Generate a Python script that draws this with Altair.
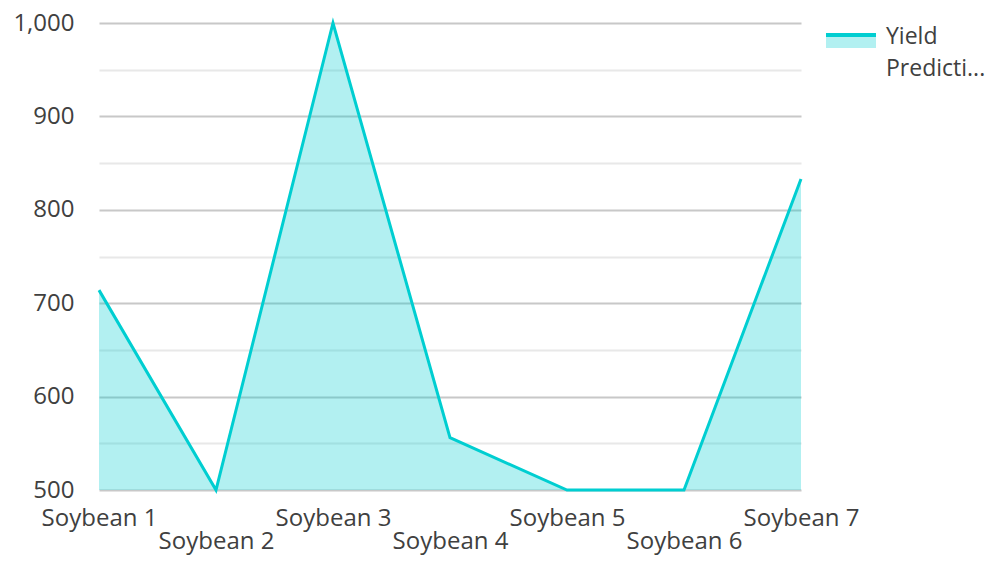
import altair as alt
import pandas as pd

categories = ["Soybean 1", "Soybean 2", "Soybean 3", "Soybean 4", "Soybean 5", "Soybean 6", "Soybean 7"]
values = [714, 500, 1000, 556, 500, 500, 833]
series_name = "Yield Prediction"
y_ticks = [500, 550, 600, 650, 700, 750, 800, 850, 900, 950, 1000]
y_base = 500

LINE = "#00CED1"
FONT = "Open Sans"
TXT = "#404040"

df = pd.DataFrame({"cat": categories, "val": values, "series": series_name})

x = alt.X(
    "cat:N",
    sort=categories,
    scale=alt.Scale(type="point", padding=0),
    axis=alt.Axis(
        title=None,
        domain=False,
        ticks=False,
        grid=False,
        labelAngle=0,
        labelFont=FONT,
        labelFontSize=24,
        labelColor=TXT,
        labelOverlap=False,
        labelBaseline="top",
        labelLineHeight=23,
        labelPadding=16,
        labelExpr="parseInt(slice(datum.label, -1)) % 2 == 0 ? ['', datum.label] : datum.label",
    ),
)
y = alt.Y(
    "val:Q",
    scale=alt.Scale(domain=[500, 1000], zero=False),
    axis=alt.Axis(
        title=None,
        domain=False,
        ticks=False,
        values=y_ticks,
        format=",.0f",
        labelExpr="datum.value % 100 == 0 ? datum.label : ''",
        labelFont=FONT,
        labelFontSize=24,
        labelColor=TXT,
        labelPadding=25,
        gridColor={"condition": {"test": "datum.value % 100 != 0", "value": "#e8e8e8"}, "value": "#c8c8c8"},
        gridWidth=2,
    ),
)

area = alt.Chart(df).mark_area(color=LINE, opacity=0.3).encode(x=x, y=y, y2=alt.Y2(datum=y_base))
line = alt.Chart(df).mark_line(color=LINE, strokeWidth=3).encode(x=x, y=y)

leg_df = pd.DataFrame({"series": [series_name]})
leg_rect = alt.Chart(leg_df).mark_rect(color=LINE, opacity=0.3).encode(
    x=alt.value(727), x2=alt.value(777), y=alt.value(14), y2=alt.value(25)
)
leg_rule = alt.Chart(leg_df).mark_rule(color=LINE, strokeWidth=4).encode(
    x=alt.value(727), x2=alt.value(777), y=alt.value(12)
)
leg_text = alt.Chart(leg_df).mark_text(
    align="left", baseline="alphabetic", font=FONT, fontSize=23, color=TXT, lineHeight=32
).encode(
    x=alt.value(787), y=alt.value(21), text=alt.value(["Yield", "Predicti..."])
)

chart = (
    alt.layer(area, line, leg_rect, leg_rule, leg_text)
    .properties(
        width=702,
        height=467,
        background="white",
        autosize=alt.AutoSizeParams(type="none"),
        padding={"left": 91, "top": 15, "right": 184, "bottom": 66},
    )
    .configure_view(stroke="transparent", strokeWidth=0)
)

chart.save("out.html", embed_options={"renderer": "svg", "actions": False})
